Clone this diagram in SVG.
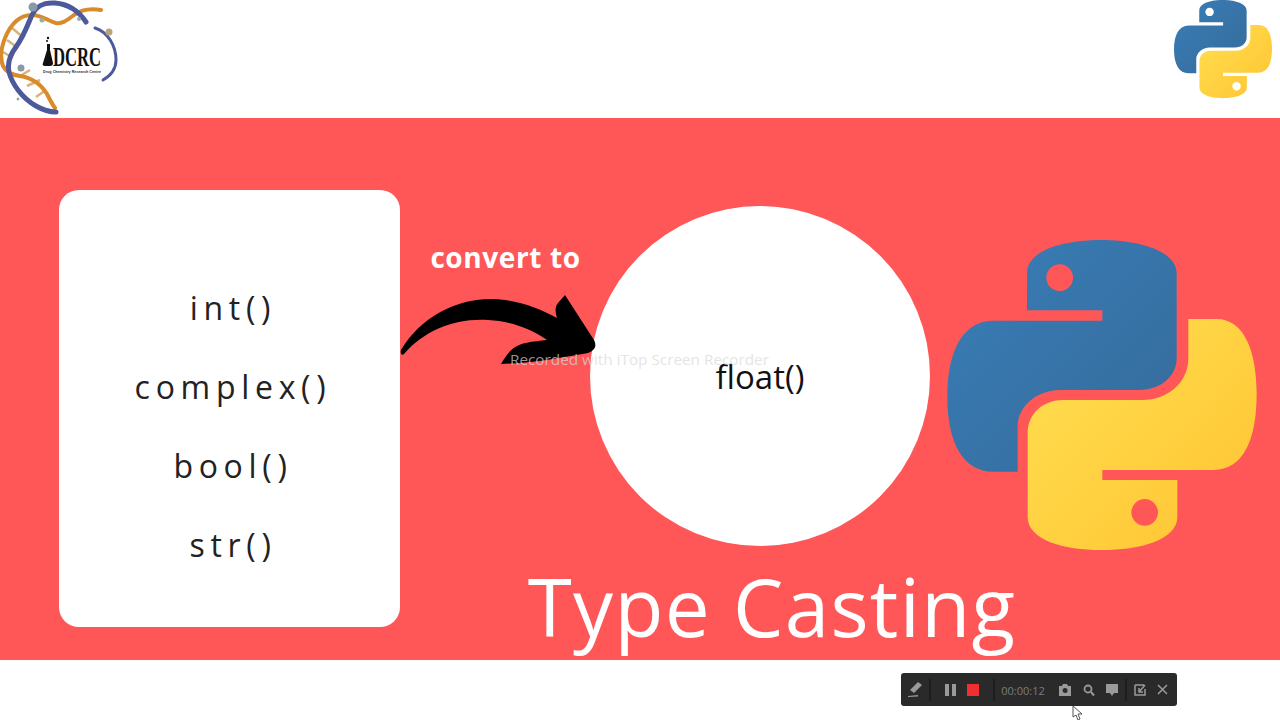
<svg xmlns="http://www.w3.org/2000/svg" width="1280" height="720" viewBox="0 0 1280 720">
<style>
.lbl{font-family:"Open Sans","DejaVu Sans",sans-serif;font-size:32px;font-weight:400;fill:#222;text-anchor:middle;letter-spacing:5.7px}
.helixB{fill:none;stroke:#4c5a9c;stroke-width:5;stroke-linecap:round}
.helixO{fill:none;stroke:#d98a2b;stroke-width:4;stroke-linecap:round}
.rung{stroke:#dcb27c;stroke-width:2.5}
.ic{fill:#9a9a9a}
.sep{stroke:#111;stroke-width:1}
</style>
<defs>
<linearGradient id="gb" x1="0" y1="0" x2="1" y2="1"><stop offset="0" stop-color="#387eb8"/><stop offset="1" stop-color="#366a99"/></linearGradient>
<linearGradient id="gy" x1="0" y1="0" x2="1" y2="1"><stop offset="0" stop-color="#ffe052"/><stop offset="1" stop-color="#ffc331"/></linearGradient>
<g id="py">
<path fill="url(#gb)" fill-rule="evenodd" d="M515 30C620 30 740 60 740 130L740 385C740 440 690 480 630 480L390 480C320 480 263 530 263 590L263 725L190 725C100 725 52 640 52 500C52 360 100 272 190 272L517 272L517 241L291 241L291 130C291 60 400 30 515 30ZM389 103A40 40 0 1 0 389.100 183A40 40 0 1 0 389 103Z"/>
<path fill="url(#gy)" fill-rule="evenodd" d="M775 267L860 267C940 267 980 360 980 490C980 630 940 720 850 720L517 720L517 750L742 750L742 860C742 930 630 960 515 960C400 960 293 930 293 860L293 610C293 550 340 510 400 510L640 510C710 510 775 460 775 385ZM644 807A40 40 0 1 0 644.100 887A40 40 0 1 0 644 807Z"/>
</g>
</defs>
<rect width="1280" height="720" fill="#fff"/>
<rect id="band" x="0" y="118" width="1280" height="542" fill="#ff5757"/>

<g id="logo-idcrc">
<path class="rung" d="M12 28L24 38M7 40L18 48M3 52L13 58M20 76L30 70M27 86L40 80M36 97L46 90"/>
<path class="helixO" d="M101 10C90 8 82 9 74 15C66 21 62 24 56 23C48 21 42 15 32 15C18 15 10 26 5 38C1 48 0 58 3 66C6 72 12 75 20 76C34 78 42 86 47 94C50 100 52 104 55 108"/>
<path class="helixB" d="M86 22C78 10 68 4 55 3C42 2 36 7 32 15C28 24 24 36 16 47C10 55 7 63 9 72C12 84 22 98 36 106C43 110 50 112 56 112"/>
<path fill="none" stroke="#4c5a9c" stroke-width="3" stroke-linecap="round" d="M95 28C108 32 116 46 116 60C116 69 110 76 103 80"/>
<circle cx="33" cy="7" r="4.500" fill="#8a98a8"/>
<circle cx="109" cy="32" r="3.500" fill="#b9a27c"/>
<circle cx="21" cy="68" r="3.500" fill="#8a98a8"/>
<circle cx="42" cy="20" r="2.500" fill="#a9a99a"/>
<circle cx="79" cy="19" r="2" fill="#9aa"/>
<circle cx="18" cy="99" r="1.500" fill="#9aa"/>
<path fill="#111" d="M47 44L50 44L50 50L53 63C53 65 52 66 50 66L45 66C43 66 42 65 43 63L47 50Z"/>
<circle cx="48" cy="38" r="1.200" fill="#111"/><circle cx="47" cy="41" r="1" fill="#111"/>
<text x="53" y="66" font-family="Liberation Serif,serif" font-weight="700" font-size="27" fill="#111" textLength="48" lengthAdjust="spacingAndGlyphs">DCRC</text>
<text x="43" y="72.500" font-family="Liberation Sans,sans-serif" font-weight="700" font-size="4" fill="#333" textLength="58" lengthAdjust="spacingAndGlyphs">Drug Chemistry Research Centre</text>
</g>

<use id="logo-python-small" href="#py" transform="translate(1168.500 -3.200) scale(.1056)"/>

<g id="source-card">
<rect x="59" y="190" width="341" height="437" rx="20" fill="#fff"/>
<text class="lbl" x="233" y="320">int()</text>
<text class="lbl" x="233" y="399">complex()</text>
<text class="lbl" x="233" y="478">bool()</text>
<text class="lbl" x="233" y="557">str()</text>
</g>

<g id="target-circle">
<circle cx="760" cy="376" r="170" fill="#fff"/>
<text x="760" y="388.500" font-family="Open Sans,DejaVu Sans,sans-serif" font-size="33" fill="#111" text-anchor="middle">float()</text>
</g>

<g id="connectors">
<path fill="#000" d="M401 350C420 318 455 299 490 299C515 299 537 307 557 318C555 312 555 306 558 303L565 295L594 340C597 346 595 350 588 353C565 357 535 363 501 364C508 352 514 345 526 343C533 341 540 341 547 340C530 328 510 321 488 320C455 318 425 330 404 354C402 356 400 354 401 350Z"/>
<text x="505.500" y="268" font-family="Open Sans,DejaVu Sans,sans-serif" font-weight="700" font-size="28" letter-spacing=".6" fill="#fff" text-anchor="middle">convert to</text>
</g>

<use id="logo-python-large" href="#py" transform="translate(930 230) scale(.33333)"/>

<g id="title"><text x="772" y="637" font-family="Open Sans,DejaVu Sans,sans-serif" font-size="80" letter-spacing="1.300" fill="#fff" text-anchor="middle">Type Casting</text></g>

<text id="watermark" x="639.500" y="365" font-family="Open Sans,DejaVu Sans,sans-serif" font-size="15.300" fill="#d8d8d8" fill-opacity=".7" text-anchor="middle">Recorded with iTop Screen Recorder</text>

<g id="recorder-toolbar">
<rect x="901" y="673" width="276" height="33" rx="3" fill="#2a2a2a"/>
<path class="ic" d="M910 690L918 682L922 685L914 693ZM908 696L918 695L918 696.500L908 697Z"/>
<path class="sep" d="M930 679V701M994 679V701M1126 679V701"/>
<rect class="ic" x="945" y="684" width="4" height="12"/><rect class="ic" x="952" y="684" width="4" height="12"/>
<rect x="967" y="684" width="12" height="12" fill="#f03030"/>
<text x="1023" y="694.500" font-family="Open Sans,DejaVu Sans,sans-serif" font-size="11" fill="#7d7d7d" text-anchor="middle">00:00:12</text>
<path class="ic" fill-rule="evenodd" d="M1059 686H1062L1063 684H1067L1068 686H1071V696H1059ZM1065 688A2.500 2.500 0 1 0 1065.100 693A2.500 2.500 0 1 0 1065 688Z"/>
<circle cx="1088" cy="689" r="3.500" fill="none" stroke="#9a9a9a" stroke-width="1.800"/><path d="M1091 692L1094 695.500" stroke="#9a9a9a" stroke-width="2"/>
<path class="ic" d="M1106 684H1118V693H1114L1112 696L1110 693H1106Z"/>
<path d="M1135 685H1144M1135 685V695H1145V689M1145 685L1139 692M1139 688V692H1143" fill="none" stroke="#9a9a9a" stroke-width="1.500"/>
<path d="M1158 685L1167 694M1167 685L1158 694" stroke="#9a9a9a" stroke-width="1.500"/>
</g>
<path id="cursor" d="M1073 706L1073 717L1076 715L1078 720L1080 719L1078 714L1082 714Z" fill="#fff" stroke="#555" stroke-width="1"/>
</svg>
